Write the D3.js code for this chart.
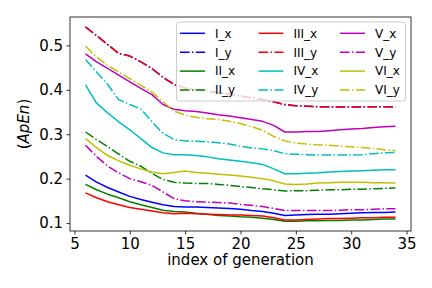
<!DOCTYPE html>
<html>
<head>
<meta charset="utf-8">
<script src="https://cdn.jsdelivr.net/npm/d3@7"></script>
<style>
  body { margin: 0; background: #fff; }
  svg { display: block; font-family: "DejaVu Sans", sans-serif; }
</style>
</head>
<body>
<svg id="chart" width="432" height="288"></svg>
<script>
// ---- data ----
const generations = [6,7,8,9,10,11,12,13,14,15,16,17,18,19,20,21,22,23,24,25,26,27,28,29,30,31,32,33,34];
const xTicks = [5,10,15,20,25,30,35];
const yTicks = [0.1,0.2,0.3,0.4,0.5];

const I_x   = [0.208,0.192,0.180,0.170,0.160,0.153,0.147,0.141,0.137,0.136,0.136,0.135,0.134,0.133,0.131,0.128,0.126,0.122,0.117,0.118,0.119,0.120,0.120,0.121,0.122,0.123,0.124,0.124,0.125];
const I_y   = [0.542,0.522,0.502,0.482,0.476,0.463,0.448,0.428,0.412,0.404,0.400,0.397,0.394,0.390,0.386,0.382,0.378,0.373,0.367,0.364,0.363,0.362,0.362,0.361,0.361,0.362,0.362,0.362,0.362];
const II_x  = [0.187,0.175,0.165,0.157,0.148,0.141,0.135,0.129,0.126,0.125,0.122,0.120,0.117,0.116,0.114,0.113,0.111,0.108,0.104,0.104,0.105,0.105,0.106,0.106,0.107,0.107,0.108,0.109,0.109];
const II_y  = [0.305,0.288,0.272,0.255,0.239,0.228,0.212,0.198,0.192,0.190,0.189,0.189,0.187,0.185,0.182,0.180,0.177,0.175,0.172,0.173,0.173,0.174,0.175,0.175,0.176,0.176,0.177,0.178,0.179];
const III_x = [0.168,0.157,0.148,0.141,0.135,0.131,0.127,0.123,0.121,0.122,0.121,0.120,0.119,0.118,0.118,0.117,0.116,0.112,0.107,0.107,0.108,0.109,0.110,0.110,0.111,0.112,0.112,0.113,0.113];
const III_y = [0.541,0.522,0.502,0.482,0.476,0.463,0.448,0.428,0.412,0.404,0.400,0.397,0.394,0.390,0.386,0.382,0.378,0.373,0.366,0.364,0.363,0.362,0.361,0.361,0.361,0.361,0.362,0.362,0.361];
const IV_x  = [0.411,0.370,0.348,0.328,0.310,0.290,0.270,0.258,0.254,0.254,0.252,0.249,0.245,0.242,0.239,0.236,0.232,0.222,0.211,0.211,0.212,0.213,0.215,0.216,0.217,0.218,0.219,0.220,0.220];
const IV_y  = [0.468,0.440,0.412,0.378,0.367,0.357,0.328,0.302,0.288,0.285,0.284,0.283,0.281,0.278,0.273,0.269,0.267,0.263,0.256,0.255,0.254,0.253,0.253,0.253,0.253,0.254,0.256,0.258,0.259];
const V_x   = [0.481,0.463,0.448,0.433,0.418,0.403,0.389,0.367,0.356,0.353,0.351,0.348,0.344,0.341,0.337,0.333,0.329,0.320,0.305,0.305,0.306,0.306,0.308,0.310,0.312,0.313,0.315,0.317,0.318];
const V_y   = [0.275,0.250,0.228,0.213,0.200,0.193,0.185,0.170,0.155,0.150,0.148,0.147,0.146,0.145,0.142,0.140,0.137,0.133,0.128,0.128,0.128,0.128,0.128,0.129,0.130,0.130,0.131,0.132,0.132];
const VI_x  = [0.290,0.270,0.252,0.240,0.230,0.222,0.215,0.211,0.214,0.217,0.214,0.212,0.210,0.208,0.206,0.203,0.200,0.195,0.188,0.187,0.188,0.190,0.191,0.192,0.192,0.192,0.191,0.191,0.190];
const VI_y  = [0.498,0.474,0.455,0.440,0.425,0.410,0.395,0.373,0.352,0.343,0.338,0.335,0.333,0.329,0.324,0.317,0.309,0.295,0.285,0.280,0.278,0.276,0.275,0.273,0.272,0.270,0.268,0.265,0.263];

const seriesNames = ["I_x","I_y","II_x","II_y","III_x","III_y","IV_x","IV_y","V_x","V_y","VI_x","VI_y"];
const seriesValues = [I_x,I_y,II_x,II_y,III_x,III_y,IV_x,IV_y,V_x,V_y,VI_x,VI_y];
const seriesColors = ["#0000ff","#0000ff","#008000","#008000","#ff0000","#ff0000","#00bfbf","#00bfbf","#bf00bf","#bf00bf","#bfbf00","#bfbf00"];
const seriesDashed = [false,true,false,true,false,true,false,true,false,true,false,true];

// ---- layout ----
const svg = d3.select("#chart");
const L = 70, R = 411, T = 17, B = 231;
const dashDot = "9.6,2.4,1.5,2.4";

const xExt = d3.extent(generations);
const xPad = (xExt[1]-xExt[0])*0.05;
const allVals = seriesValues.flat();
const yExt = d3.extent(allVals);
const yPad = (yExt[1]-yExt[0])*0.05;

const x = d3.scaleLinear().domain([xExt[0]-xPad, xExt[1]+xPad]).range([L, R]);
const y = d3.scaleLinear().domain([yExt[0]-yPad, yExt[1]+yPad]).range([B, T]);

svg.append("rect").attr("width",432).attr("height",288).attr("fill","#fff");

// lines
const line = d3.line().x((d,i)=>x(generations[i])).y(d=>y(d));
const plot = svg.append("g");
seriesValues.forEach((vals,k)=>{
  plot.append("path")
    .attr("d", line(vals))
    .attr("fill","none")
    .attr("stroke", seriesColors[k])
    .attr("stroke-width",1.5)
    .attr("stroke-linejoin","round")
    .attr("stroke-dasharray", seriesDashed[k] ? dashDot : null);
});

// axes
const xAxis = svg.append("g").attr("transform",`translate(0,${B})`)
  .call(d3.axisBottom(x).tickValues(xTicks).tickSize(3.5).tickPadding(3.5).tickFormat(d3.format("d")));
const yAxis = svg.append("g").attr("transform",`translate(${L},0)`)
  .call(d3.axisLeft(y).tickValues(yTicks).tickSize(3.5).tickPadding(3.5).tickFormat(d3.format(".1f")));
[xAxis,yAxis].forEach(a=>{
  a.select(".domain").remove();
  a.selectAll("line").attr("stroke","#000").attr("stroke-width",0.8);
  a.selectAll("text").attr("font-size","15px").attr("fill","#000").attr("font-family","DejaVu Sans");
});

// frame
svg.append("rect").attr("x",L).attr("y",T).attr("width",R-L).attr("height",B-T)
  .attr("fill","none").attr("stroke","#000").attr("stroke-width",0.8);

// axis labels
svg.append("text").attr("x",(L+R)/2).attr("y",265).attr("text-anchor","middle")
  .attr("font-size","15px").attr("fill","#000").text("index of generation");
const yl = svg.append("text").attr("transform",`translate(29,${(T+B)/2}) rotate(-90)`)
  .attr("text-anchor","middle").attr("font-size","15px").attr("fill","#000");
yl.append("tspan").text("(");
yl.append("tspan").attr("font-style","italic").text("ApEn");
yl.append("tspan").text(")");

// legend
const lg = svg.append("g");
lg.append("rect").attr("x",176.5).attr("y",22).attr("width",229).attr("height",79).attr("rx",3)
  .attr("fill","#fff").attr("fill-opacity",0.8).attr("stroke","#cccccc").attr("stroke-width",1);
const colX = [180, 258.5, 340];
const rowY = [33.3, 52.2, 71.1, 90];
seriesNames.forEach((name,k)=>{
  const c = Math.floor(k/4), r = k%4;
  lg.append("line").attr("x1",colX[c]).attr("x2",colX[c]+25).attr("y1",rowY[r]).attr("y2",rowY[r])
    .attr("stroke",seriesColors[k]).attr("stroke-width",1.5)
    .attr("stroke-dasharray", seriesDashed[k] ? dashDot : null);
  lg.append("text").attr("x",colX[c]+35).attr("y",rowY[r]).attr("dy","0.36em")
    .attr("font-size","12px").attr("fill","#000").text(name);
});
</script>
</body>
</html>
